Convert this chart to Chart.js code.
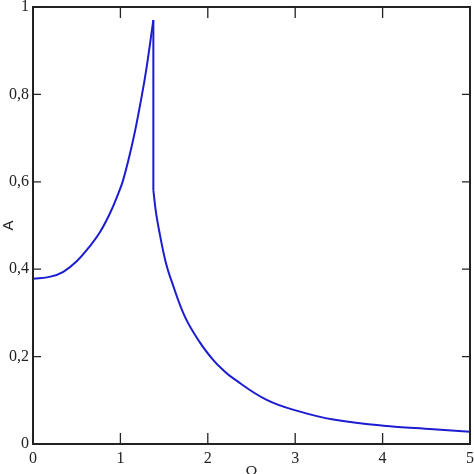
<!DOCTYPE html>
<html>
<head>
<meta charset="utf-8">
<script src="https://cdn.jsdelivr.net/npm/chart.js"></script>
<style>
  html, body { margin: 0; padding: 0; background: #fff; }
</style>
</head>
<body>
<canvas id="myChart" width="474" height="474"></canvas>
<script>
// frequency Omega and response amplitude A
// rising branch up to the jump
var omegaRise = [0, 0.2, 0.347, 0.5, 0.652, 0.767, 0.881, 0.96, 1.033, 1.148, 1.243, 1.3, 1.377];
var ampRise = [0.378, 0.383, 0.394, 0.418, 0.453, 0.485, 0.528, 0.565, 0.605, 0.698, 0.795, 0.862, 0.97];
// falling branch after the jump
var omegaFall = [1.377, 1.407, 1.453, 1.52, 1.587, 1.739, 1.911, 2.063, 2.177, 2.292, 2.674,
                 3.055, 3.436, 4.008, 4.58, 5];
var ampFall = [0.581, 0.53, 0.478, 0.415, 0.372, 0.291, 0.232, 0.192, 0.169, 0.15, 0.101,
               0.074, 0.056, 0.042, 0.034, 0.028];
var xTicks = [0, 1, 2, 3, 4, 5];
var yTicks = [0, 0.2, 0.4, 0.6, 0.8, 1];

var lineColor = '#1c1cd0';

function pts(xs, ys) {
  return xs.map(function (x, i) { return { x: x, y: ys[i] }; });
}

var ctx = document.getElementById('myChart').getContext('2d');

// frame round the plot area with inward ticks on all four sides
var frame = {
  id: 'frame',
  afterDraw: function (chart) {
    var a = chart.chartArea, c = chart.ctx;
    var sx = chart.scales.x, sy = chart.scales.y;
    c.save();
    c.strokeStyle = '#222';
    c.lineWidth = 2;
    c.strokeRect(a.left, a.top, a.right - a.left, a.bottom - a.top);
    c.lineWidth = 1.3;
    c.beginPath();
    xTicks.forEach(function (v) {
      var px = sx.getPixelForValue(v);
      c.moveTo(px, a.bottom); c.lineTo(px, a.bottom - 11);
      c.moveTo(px, a.top); c.lineTo(px, a.top + 11);
    });
    yTicks.forEach(function (v) {
      var py = sy.getPixelForValue(v);
      c.moveTo(a.left, py); c.lineTo(a.left + 8, py);
      c.moveTo(a.right, py); c.lineTo(a.right - 8, py);
    });
    c.stroke();
    c.restore();
  }
};

var common = {
  showLine: true,
  borderColor: lineColor,
  borderWidth: 2,
  pointRadius: 0,
  fill: false,
  tension: 0.4
};

var chart = new Chart(ctx, {
  type: 'scatter',
  data: {
    datasets: [
      Object.assign({ label: 'rise', data: pts(omegaRise, ampRise) }, common),
      // the jump down at the peak
      Object.assign({ label: 'jump', data: [
        { x: omegaRise[omegaRise.length - 1], y: ampRise[ampRise.length - 1] },
        { x: omegaFall[0], y: ampFall[0] }
      ] }, common, { tension: 0 }),
      Object.assign({ label: 'fall', data: pts(omegaFall, ampFall) }, common)
    ]
  },
  options: {
    responsive: false,
    animation: false,
    layout: { padding: { top: 7, right: 4, left: 0, bottom: 0 } },
    plugins: { legend: { display: false }, tooltip: { enabled: false } },
    scales: {
      x: {
        type: 'linear',
        min: 0, max: 5,
        afterBuildTicks: function (s) { s.ticks = xTicks.map(function (v) { return { value: v }; }); },
        afterFit: function (s) { s.height = 30; s.paddingLeft = 0; s.paddingRight = 0; },
        grid: { display: false, drawTicks: false },
        border: { display: false },
        ticks: {
          padding: 5,
          color: '#222',
          maxRotation: 0,
          autoSkip: false,
          font: { family: 'Liberation Serif', size: 16 },
          callback: function (v) { return String(v); }
        },
        title: {
          display: true,
          text: 'Ω',
          color: '#222',
          font: { family: 'Liberation Serif', size: 16 },
          padding: { top: 0, bottom: -8 }
        }
      },
      y: {
        type: 'linear',
        min: 0, max: 1,
        afterBuildTicks: function (s) { s.ticks = yTicks.map(function (v) { return { value: v }; }); },
        afterFit: function (s) { s.width = 33; s.paddingTop = 0; s.paddingBottom = 0; },
        grid: { display: false, drawTicks: false },
        border: { display: false },
        ticks: {
          padding: 4,
          color: '#222',
          autoSkip: false,
          font: { family: 'Liberation Serif', size: 16 },
          callback: function (v) { return String(v).replace('.', ','); }
        },
        title: {
          display: true,
          text: 'A',
          color: '#222',
          font: { family: 'Liberation Sans', size: 15 },
          padding: { top: 0, bottom: 0 }
        }
      }
    }
  },
  plugins: [frame]
});
</script>
</body>
</html>
